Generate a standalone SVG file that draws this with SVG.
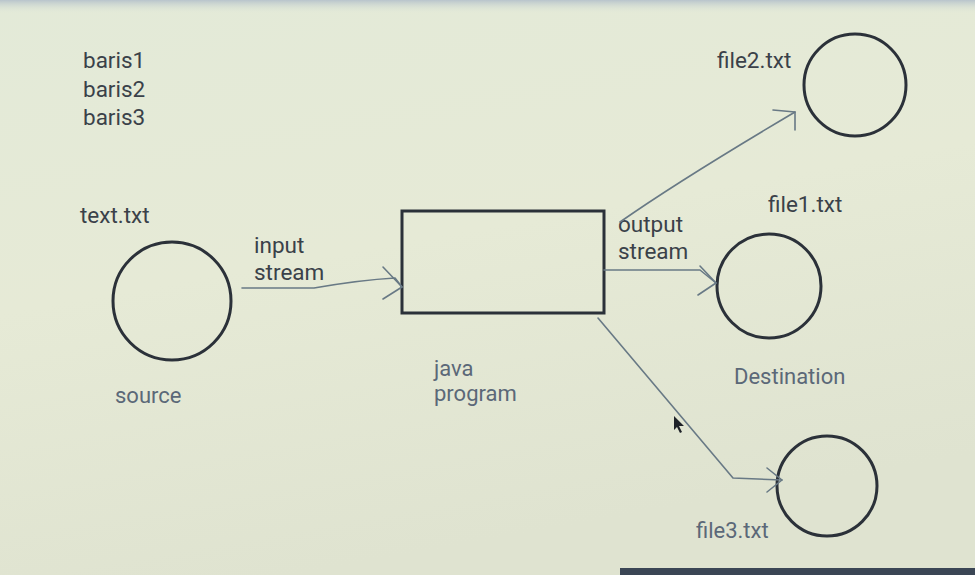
<svg xmlns="http://www.w3.org/2000/svg" width="975" height="575" viewBox="0 0 975 575">
<defs>
<linearGradient id="bg" x1="0" y1="0" x2="0.3" y2="1">
<stop offset="0" stop-color="#e3ead8"/>
<stop offset="0.5" stop-color="#e6ead6"/>
<stop offset="1" stop-color="#dfe3d0"/>
</linearGradient>
<linearGradient id="top" x1="0" y1="0" x2="0" y2="1">
<stop offset="0" stop-color="#b8c4cc"/>
<stop offset="1" stop-color="#e3ead8" stop-opacity="0"/>
</linearGradient>
<style>
.shape{fill:none;stroke:#2b3139;stroke-width:3}
.conn{fill:none;stroke:#687985;stroke-width:1.6;stroke-linejoin:round;stroke-linecap:round}
.t{font-family:Roboto,"Liberation Sans",sans-serif;font-size:22.5px;fill:#3a4149}
.l{font-family:Roboto,"Liberation Sans",sans-serif;font-size:22px;fill:#5b6878}
</style>
</defs>
<rect width="975" height="575" fill="url(#bg)"/>
<rect width="975" height="14" fill="url(#top)"/>
<rect x="620" y="568" width="355" height="7" fill="#3b4655"/>

<g id="content-text">
<text class="t" x="83" y="68">baris1</text>
<text class="t" x="83" y="97">baris2</text>
<text class="t" x="83" y="125">baris3</text>
</g>

<g id="source">
<circle class="shape" cx="172" cy="301" r="59"/>
<text class="t" x="80" y="223">text.txt</text>
<text class="l" x="115" y="403">source</text>
</g>

<g id="java-program">
<rect class="shape" x="402" y="211" width="202" height="102"/>
<text class="l" x="434" y="376">java</text>
<text class="l" x="434" y="401">program</text>
</g>

<g id="file2">
<circle class="shape" cx="855" cy="85" r="51"/>
<text class="t" x="717" y="68">file2.txt</text>
</g>

<g id="file1">
<circle class="shape" cx="769" cy="286" r="52"/>
<text class="t" x="768" y="212">file1.txt</text>
<text class="l" x="734" y="384">Destination</text>
</g>

<g id="file3">
<circle class="shape" cx="827" cy="486" r="50"/>
<text class="l" x="696" y="538">file3.txt</text>
</g>

<g id="connectors">
<path class="conn" d="M242 288 L314 288 Q360 280 395 278 L402 287"/>
<path class="conn" d="M383 267 L402 287 L383 299"/>
<text class="t" x="254" y="253">input</text>
<text class="t" x="254" y="280">stream</text>

<path class="conn" d="M604 270 L700 270 L716 283"/>
<path class="conn" d="M700 266 L716 283 L698 295"/>
<text class="t" x="618" y="232">output</text>
<text class="t" x="618" y="259">stream</text>

<path class="conn" d="M620 222 Q680 180 795 112"/>
<path class="conn" d="M773 110 L795 112 L795 130"/>

<path class="conn" d="M598 318 L733 478 L782 480"/>
<path class="conn" d="M767 468 L782 480 L767 492"/>
</g>

<polygon points="674,416 674,430 677,427 680,433 682,432 679,426 684,426" fill="#1e2228"/>
</svg>
